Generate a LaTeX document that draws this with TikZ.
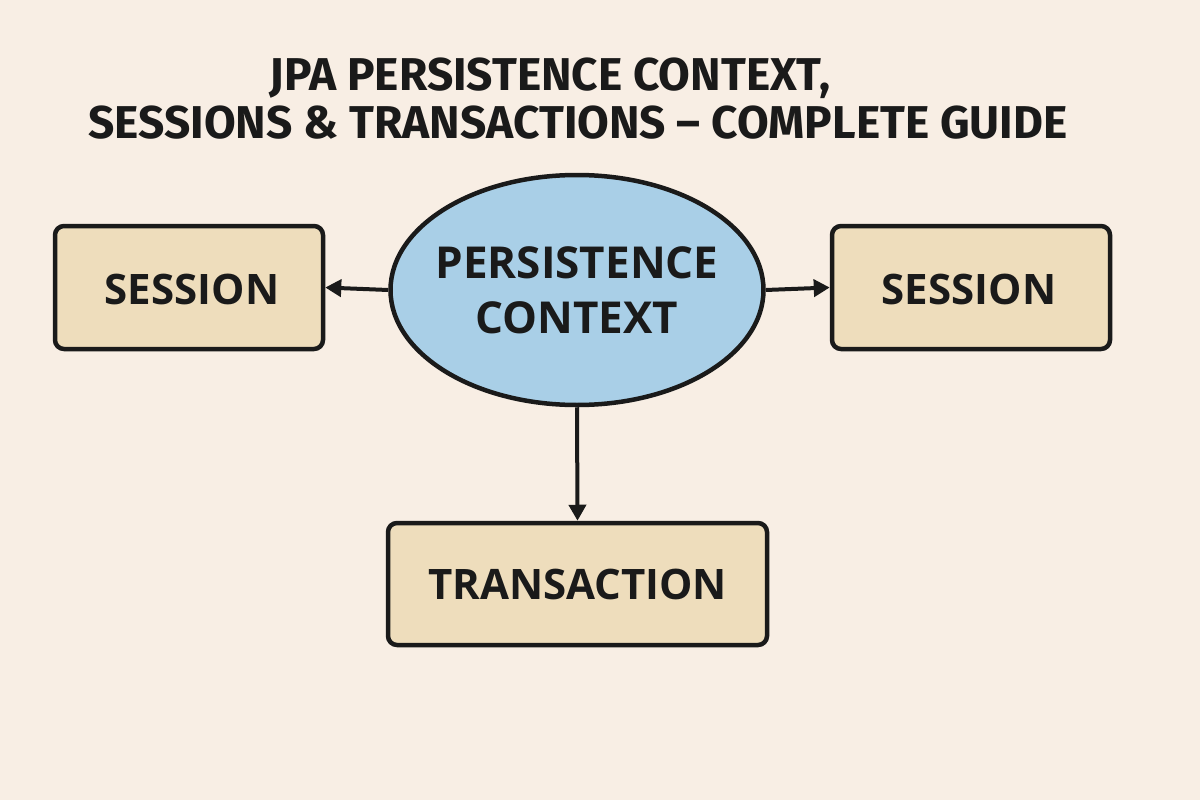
\documentclass[tikz,border=0pt]{standalone}
\usepackage{fontspec}
\setmainfont{Open Sans}
\newfontfamily\titlefont{Fira Sans}
\usetikzlibrary{shapes.geometric,arrows.meta}
\definecolor{bg}{HTML}{F8EEE4}
\definecolor{tan}{HTML}{EEDDBC}
\definecolor{skyb}{HTML}{A9CFE7}
\definecolor{ink}{HTML}{1A1A1A}
\tikzset{
  box/.style={draw=ink, line width=4.5pt, rounded corners=9pt, fill=tan, inner sep=0pt},
  lbl/.style={font=\fontsize{42}{46}\selectfont\bfseries, text=ink, align=center},
  conn/.style={draw=ink, line width=4pt, -{Triangle[length=16pt,width=17pt]}},
  ttl/.style={font=\titlefont\fontsize{46}{50}\selectfont\bfseries, text=ink}
}
\begin{document}
\begin{tikzpicture}[x=1pt,y=-1pt]
\fill[bg] (0,0) rectangle (1200,800);
\useasboundingbox (0,0) rectangle (1200,800);
\node[ttl] (t1) at (550,78) {JPA PERSISTENCE CONTEXT,};
\node[ttl] (t2) at (578,123) {SESSIONS \& TRANSACTIONS – COMPLETE GUIDE};
\node[box, minimum width=268pt, minimum height=123pt] (s1) at (189,287.5) {};
\node[lbl] at (192,289) {SESSION};
\node[box, minimum width=278pt, minimum height=123pt] (s2) at (971,287.5) {};
\node[lbl] at (969,289) {SESSION};
\node[box, minimum width=379pt, minimum height=122pt] (tr) at (577.5,584) {};
\node[lbl] at (tr.center) {TRANSACTION};
\node[ellipse, draw=ink, line width=4.5pt, fill=skyb, minimum width=373pt, minimum height=230pt, inner sep=0pt] (pc) at (577,290) {};
\node[lbl, font=\fontsize{44}{55}\selectfont\bfseries] at (pc.center) {PERSISTENCE\\CONTEXT};
\draw[conn] (pc.west) -- (s1.east);
\draw[conn] (pc.east) -- (s2.west);
\draw[conn] (pc.south) -- (tr.north);
\end{tikzpicture}
\end{document}
